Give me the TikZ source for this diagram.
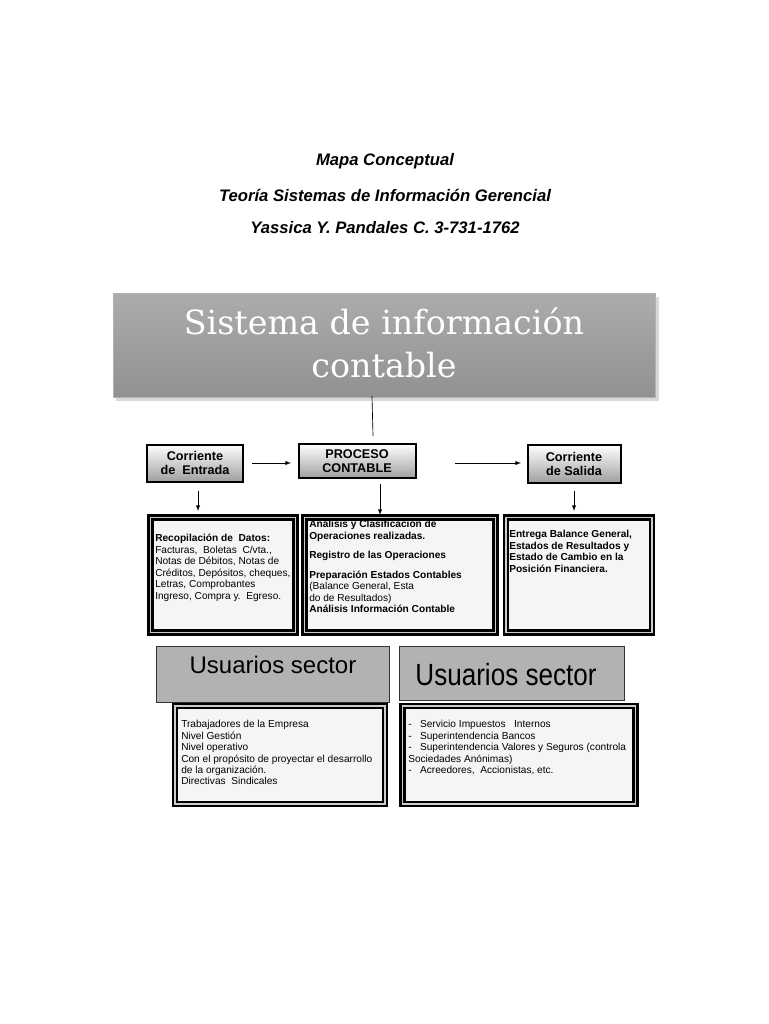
\documentclass[tikz,border=0pt]{standalone}
\usepackage{fontspec}
\setmainfont{Liberation Sans}
\newfontfamily\serifx{DejaVu Serif}
\begin{document}
\begin{tikzpicture}[x=0.75pt,y=-0.75pt,
  hdr/.style={draw=black,line width=1.5pt,top color=white,bottom color=gray!75,align=center,font=\bfseries\fontsize{9.5}{10}\selectfont,inner sep=0pt},
  dbox/.style={draw=black,line width=2pt,fill=gray!8,double=gray!40,double distance=1pt,inner sep=0pt},
  gbox/.style={draw=gray!40!black,line width=0.6pt,fill=gray!60,inner sep=0pt},
  arr/.style={-latex,line width=0.5pt},
  txt/.style={anchor=north west,align=left,font=\fontsize{7.6}{8.6}\selectfont,inner sep=0pt}]
\useasboundingbox (0,0) rectangle (768,1024);
\node[font=\bfseries\itshape\fontsize{12.5}{13}\selectfont] (t1) at (385,161) {Mapa Conceptual};
\node[font=\bfseries\itshape\fontsize{12.5}{13}\selectfont] (t2) at (385,195) {Teoría Sistemas de Información Gerencial};
\node[font=\bfseries\itshape\fontsize{12.5}{13}\selectfont] (t3) at (385,228) {Yassica Y. Pandales C. 3-731-1762};
% main box
\fill[gray!30] (116,297) rectangle (659,401);
\node[draw=gray!60,top color=gray!65,bottom color=gray!85!black!75,minimum width=542*0.75pt,minimum height=104*0.75pt,inner sep=0pt] (main) at (384,345) {};
\node[text=white,font=\serifx\fontsize{25}{32}\selectfont,align=center] (mt) at (384,343) {Sistema de información\\contable};
\coordinate (mb) at (372,396);
\coordinate (pt) at (373,436);
\draw[line width=0.5pt] (mb) -- (pt);
% headers
\node[hdr,minimum width=96*0.75pt,minimum height=37*0.75pt] (ce) at (195,463) {Corriente\\de\ \ Entrada};
\node[hdr,minimum width=117*0.75pt,minimum height=34*0.75pt] (pc) at (357,461) {PROCESO\\CONTABLE};
\node[hdr,minimum width=93*0.75pt,minimum height=38*0.75pt] (cs) at (574,464) {Corriente\\de Salida};
\draw[arr] (252,463) -- (291,463);
\draw[arr] (455,463) -- (521,463);
% lower boxes
\node[dbox,minimum width=145*0.75pt,minimum height=115*0.75pt] (b1) at (223,575) {};
\node[dbox,minimum width=191*0.75pt,minimum height=115*0.75pt] (b2) at (400,575) {};
\node[dbox,minimum width=146*0.75pt,minimum height=115*0.75pt] (b3) at (579,575) {};
\draw[arr] (198,491) -- (198,511);
\draw[arr] (380,484) -- (380,515);
\draw[arr] (574,491) -- (574,511);
\node[txt] (x1) at (155,534) {\textbf{Recopilación de\ \ Datos:}\\Facturas,\ \ Boletas\ \ C/vta.,\\Notas de Débitos, Notas de\\Créditos, Depósitos, cheques,\\Letras, Comprobantes\\Ingreso, Compra y.\ \ Egreso.};
\node[txt] (x2) at (309,520) {\textbf{Análisis y Clasificación de}\\\textbf{Operaciones realizadas.}\\[6pt]\textbf{Registro de las Operaciones}\\[6pt]\textbf{Preparación Estados Contables}\\(Balance General, Esta\\do de Resultados)\\\textbf{Análisis Información Contable}};
\node[txt] (x3) at (509,530) {\textbf{Entrega Balance General,}\\\textbf{Estados de Resultados y}\\\textbf{Estado de Cambio en la}\\\textbf{Posición Financiera.}};
% usuarios
\node[gbox,minimum width=233*0.75pt,minimum height=56*0.75pt] (u1) at (273,674) {};
\node[font=\fontsize{18}{18}\selectfont] (u1t) at (273,665) {Usuarios sector};
\node[gbox,minimum width=225*0.75pt,minimum height=54*0.75pt] (u2) at (512,673) {};
\node[font=\fontsize{23}{24}\selectfont,xscale=0.85] (u2t) at (506,675) {Usuarios sector};
\node[dbox,minimum width=210*0.75pt,minimum height=98*0.75pt] (l1) at (280,755) {};
\node[dbox,minimum width=233*0.75pt,minimum height=98*0.75pt] (l2) at (519,755) {};
\node[txt] (y1) at (181,720) {Trabajadores de la Empresa\\Nivel Gestión\\Nivel operativo\\Con el propósito de proyectar el desarrollo\\de la organización.\\Directivas\ \ Sindicales};
\node[txt] (y2) at (408,720) {-\ \ \ Servicio Impuestos\ \ \ Internos\\-\ \ \ Superintendencia Bancos\\-\ \ \ Superintendencia Valores y Seguros (controla\\Sociedades Anónimas)\\-\ \ \ Acreedores,\ \ Accionistas, etc.};
\end{tikzpicture}
\end{document}
